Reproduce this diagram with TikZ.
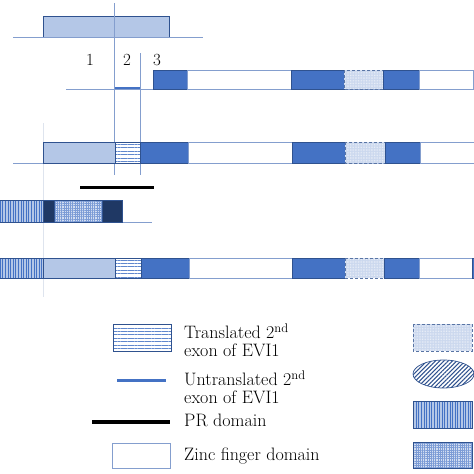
\documentclass[tikz,border=0pt]{standalone}
\usetikzlibrary{patterns.meta}
\definecolor{dblue}{RGB}{68,114,196}
\definecolor{lblue}{RGB}{180,199,231}
\definecolor{navy}{RGB}{31,56,100}
\definecolor{rowline}{RGB}{132,158,206}
\definecolor{edge}{RGB}{47,82,143}
\definecolor{faint}{RGB}{222,228,238}
\tikzset{
  box/.style={draw=edge, line width=0.7pt},
  lightbox/.style={box, fill=lblue},
  darkbox/.style={box, fill=dblue},
  navybox/.style={box, fill=navy},
  zincbox/.style={draw=rowline, line width=0.8pt, fill=white},
  hstripes/.style={box, preaction={fill=white}, pattern={Lines[angle=0,distance=3.4pt,line width=0.5pt]}, pattern color=dblue!85},
  vstripes/.style={box, preaction={fill=lblue}, pattern={Lines[angle=90,distance=2.6pt,line width=0.5pt]}, pattern color=dblue},
  gridded/.style={box, preaction={fill=lblue!60}, pattern={Hatch[angle=0,distance=2.2pt,line width=0.35pt]}, pattern color=dblue!70},
  dotted box/.style={draw=edge!80, line width=0.4pt, densely dashed, preaction={fill=lblue!70}, pattern={Dots[distance=1.6pt,radius=0.35pt]}, pattern color=white},
  rowbase/.style={rowline, line width=1pt},
  legtext/.style={anchor=west, align=left, inner sep=0pt, font=\fontsize{18}{17.5}\selectfont},
  numlabel/.style={font=\fontsize{17}{18}\selectfont}
}
\begin{document}
\begin{tikzpicture}[x=1pt, y=-1pt]
  \useasboundingbox (0,0) rectangle (474,474);

  % faint guide line
  \draw[faint, line width=0.8pt] (43,123) -- (43,297);

  % top exon
  \draw[lightbox] (43,16) rectangle (169,37);
  \draw[rowbase] (13,37) -- (203,37);
  \draw[rowline, line width=1pt] (114,3) -- (114,175);
  \draw[rowline, line width=1pt] (140,53) -- (140,175);
  \node[numlabel] (lab1) at (90,60) {1};
  \node[numlabel] (lab2) at (127,60) {2};
  \node[numlabel] (lab3) at (157,60) {3};

  % row 2
  \draw[rowbase] (66,89) -- (474,89);
  \draw[dblue, line width=2.5pt] (115,88) -- (140,88);
  \draw[darkbox] (153,70) rectangle (187,89);
  \draw[zincbox] (187,70) rectangle (291,89);
  \draw[darkbox] (291,70) rectangle (344,89);
  \draw[dotted box] (344,70) rectangle (383,89);
  \draw[darkbox] (383,70) rectangle (419,89);
  \draw[zincbox] (419,70) rectangle (473,89);

  % row 3
  \draw[rowbase] (13,163) -- (474,163);
  \draw[lightbox] (43,142) rectangle (115,163);
  \draw[hstripes] (115,142) rectangle (140,163);
  \draw[darkbox] (140,142) rectangle (188,163);
  \draw[zincbox] (188,142) rectangle (292,163);
  \draw[darkbox] (292,142) rectangle (345,163);
  \draw[dotted box] (345,142) rectangle (385,163);
  \draw[darkbox] (385,142) rectangle (420,163);
  \draw[zincbox] (420,142) rectangle (476,163);

  % PR domain
  \draw[black, line width=3pt] (80,187) -- (154,187);

  % row 4
  \draw[rowbase] (0,222) -- (152,222);
  \draw[vstripes] (-2,200) rectangle (43,222);
  \draw[navybox] (43,200) rectangle (54,222);
  \draw[gridded] (54,200) rectangle (102,222);
  \draw[navybox] (102,200) rectangle (122,222);

  % row 5
  \draw[vstripes] (-2,258) rectangle (43,278);
  \draw[lightbox] (43,258) rectangle (115,278);
  \draw[hstripes] (115,258) rectangle (141,278);
  \draw[darkbox] (141,258) rectangle (189,278);
  \draw[zincbox] (189,258) rectangle (292,278);
  \draw[darkbox] (292,258) rectangle (345,278);
  \draw[dotted box] (345,258) rectangle (384,278);
  \draw[darkbox] (384,258) rectangle (419,278);
  \draw[zincbox] (419,258) rectangle (472,278);
  \draw[darkbox] (472,258) rectangle (476,278);

  % legend, left column
  \draw[hstripes] (113,324) rectangle (171,351);
  \node[legtext] (translated) at (184,340) {Translated 2\textsuperscript{nd}\\exon of EVI1};
  \draw[dblue, line width=3pt] (117,380) -- (166,380);
  \node[legtext] (untranslated) at (184,387) {Untranslated 2\textsuperscript{nd}\\exon of EVI1};
  \draw[black, line width=3.5pt] (92,422) -- (170,422);
  \node[legtext] (prdomain) at (184,420) {PR domain};
  \draw[zincbox] (112,443) rectangle (170,468);
  \node[legtext] (zinc) at (184,456) {Zinc finger domain};

  % legend, right column
  \draw[dotted box] (413,324) rectangle (472,351);
  \draw[draw=edge, line width=0.7pt, preaction={fill=white}, pattern={Lines[angle=45,distance=3pt,line width=1pt]}, pattern color=edge] (443.5,374) ellipse (30.5 and 14);
  \draw[vstripes] (413,401) rectangle (472,428);
  \draw[gridded] (413,442) rectangle (472,468);
\end{tikzpicture}
\end{document}
